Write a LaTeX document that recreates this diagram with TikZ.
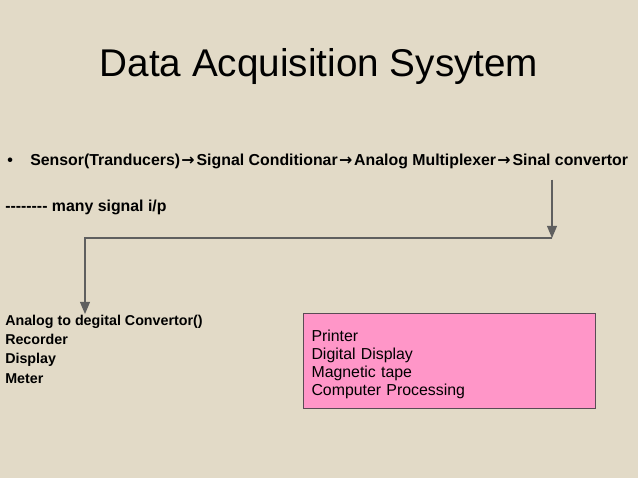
\documentclass[tikz,border=0pt]{standalone}
\usepackage{fontspec}
\setmainfont{Liberation Sans}
\newfontfamily\arrowfont{DejaVu Sans}
\newcommand{\nextstage}{\kern1pt{\arrowfont\bfseries →}\kern1pt}
\usetikzlibrary{positioning,arrows}
\definecolor{paper}{RGB}{226,218,199}
\definecolor{boxpink}{RGB}{255,150,200}
\definecolor{boxedge}{RGB}{90,75,85}
\definecolor{wire}{RGB}{95,95,95}

\begin{document}
\begin{tikzpicture}[
		x=0.75pt, y=-0.75pt,
		> = triangle 45,
		txt/.style = {inner sep=0pt, anchor=base west, font=\fontsize{10.7}{14.5}\selectfont\bfseries},
		big/.style = {txt, font=\fontsize{11.9}{14.5}\selectfont\bfseries},
		flow/.style = {->, draw=wire, line width=1.1pt},
		outbox/.style = {draw=boxedge, fill=boxpink, line width=0.8pt, anchor=north west,
			minimum width=219pt, minimum height=71pt, inner xsep=6pt, inner ysep=0pt,
			text width=207pt, align=left, font=\fontsize{11.9}{13.5}\selectfont}
		]
		\fill[paper] (0,0) rectangle (638,478);
		
		% heading
		\node[anchor=base, inner sep=0pt, font=\fontsize{29}{34}\selectfont] (title) at (319,76) {Data Acquisition Sysytem};
		
		% the chain of stages
		\node[big] (dot) at (7,165) {•};
		\node[big] (sensor) at (30,165) {Sensor(Tranducers)\nextstage};
		\node[big] (cond) at (sensor.base east) {Signal Conditionar\nextstage};
		\node[big] (mux) at (cond.base east) {Analog Multiplexer\nextstage};
		\node[big] (conv) at (mux.base east) {Sinal convertor};
		\node[big] (many) at (5,211) {-{}-{}-{}-{}-{}-{}-{}- many signal i/p};
		
		% the outputs
		\node[txt] (adc) at (5,325) {Analog to degital Convertor()};
		\node[txt] (rec) at ([yshift=-14.5pt]adc.base west) {Recorder};
		\node[txt] (disp) at ([yshift=-14.5pt]rec.base west) {Display};
		\node[txt] (meter) at ([yshift=-14.5pt]disp.base west) {Meter};
		\node[outbox] (devices) at (303,313) {\rule{0pt}{14pt}Printer\\Digital Display\\Magnetic tape\\Computer Processing};
		
		% connectors
		\coordinate (turn) at (552,238);
		\coordinate (adcin) at (85,314);
		\draw[flow] ([yshift=-11pt]conv.base -| turn) -- (turn);
		\draw[flow] (turn) -| (adcin);
\end{tikzpicture}
\end{document}
